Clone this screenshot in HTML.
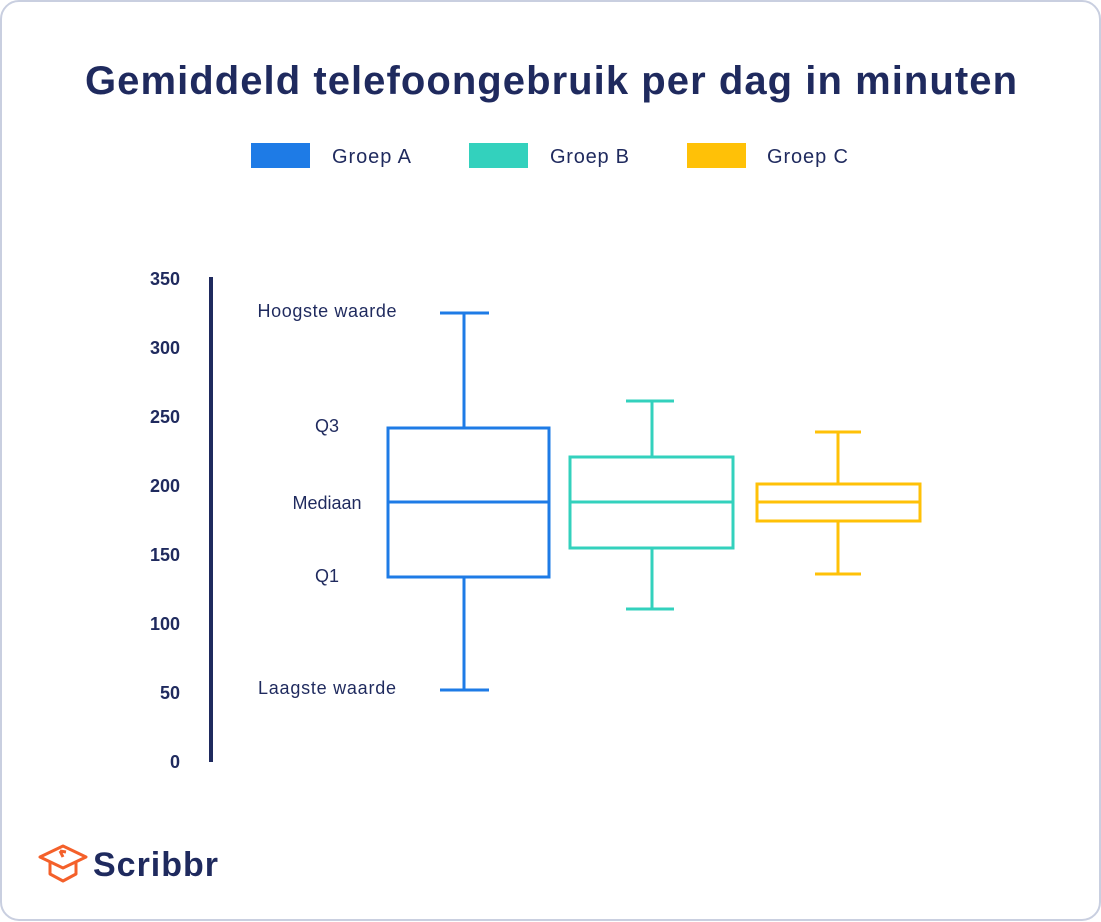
<!DOCTYPE html>
<html><head><meta charset="utf-8"><style>
body{margin:0;background:#fff;}
svg{display:block;font-family:"Liberation Sans",sans-serif;}
</style></head><body>
<svg width="1101" height="922" viewBox="0 0 1101 922">
<rect x="1" y="1" width="1099" height="919" rx="18" fill="#fff" stroke="#c9cfe0" stroke-width="2"/>
<text x="551" y="94" text-anchor="middle" font-size="40" font-weight="bold" fill="#1f2a5e" textLength="932">Gemiddeld telefoongebruik per dag in minuten</text>
<rect x="251" y="143" width="59" height="25" fill="#1e7be6"/>
<text x="332" y="163" font-size="20" fill="#1f2a5e" textLength="79">Groep A</text>
<rect x="469" y="143" width="59" height="25" fill="#33d1bd"/>
<text x="550" y="163" font-size="20" fill="#1f2a5e" textLength="79">Groep B</text>
<rect x="687" y="143" width="59" height="25" fill="#ffc107"/>
<text x="767" y="163" font-size="20" fill="#1f2a5e" textLength="81">Groep C</text>
<line x1="211" y1="277" x2="211" y2="762" stroke="#1f2a5e" stroke-width="4"/>
<g font-size="18" font-weight="bold" fill="#1f2a5e" text-anchor="end">
<text x="180" y="285">350</text><text x="180" y="354">300</text><text x="180" y="423">250</text><text x="180" y="492">200</text><text x="180" y="561">150</text><text x="180" y="630">100</text><text x="180" y="699">50</text><text x="180" y="768">0</text>
</g>
<g font-size="18" fill="#1f2a5e" text-anchor="middle">
<text x="327" y="317" textLength="139">Hoogste waarde</text>
<text x="327" y="432">Q3</text>
<text x="327" y="509">Mediaan</text>
<text x="327" y="582">Q1</text>
<text x="327" y="694" textLength="138">Laagste waarde</text>
</g>
<g fill="none" stroke-width="3">
<g stroke="#1e7be6">
<rect x="388" y="428" width="161" height="149"/><line x1="388" y1="502" x2="549" y2="502"/>
<line x1="464" y1="313" x2="464" y2="428"/><line x1="440" y1="313" x2="489" y2="313"/>
<line x1="464" y1="577" x2="464" y2="690"/><line x1="440" y1="690" x2="489" y2="690"/>
</g>
<g stroke="#33d1bd">
<rect x="570" y="457" width="163" height="91"/><line x1="570" y1="502" x2="733" y2="502"/>
<line x1="652" y1="401" x2="652" y2="457"/><line x1="626" y1="401" x2="674" y2="401"/>
<line x1="652" y1="548" x2="652" y2="609"/><line x1="626" y1="609" x2="674" y2="609"/>
</g>
<g stroke="#ffc107">
<rect x="757" y="484" width="163" height="37"/><line x1="757" y1="502" x2="920" y2="502"/>
<line x1="838" y1="432" x2="838" y2="484"/><line x1="815" y1="432" x2="861" y2="432"/>
<line x1="838" y1="521" x2="838" y2="574"/><line x1="815" y1="574" x2="861" y2="574"/>
</g>
</g>
<g fill="none" stroke="#f4602a" stroke-width="3" stroke-linejoin="round">
<path d="M40 857 L63 846 L86 857 L63 868 Z"/>
<path d="M50 862 V874 L63 881 L76 874 V862"/>
<path d="M63 857 L60 851 M60 851 L66 852"/>
</g>
<text x="93" y="876" font-size="34" font-weight="bold" fill="#1f2a5e" textLength="125">Scribbr</text>
</svg>
</body></html>
